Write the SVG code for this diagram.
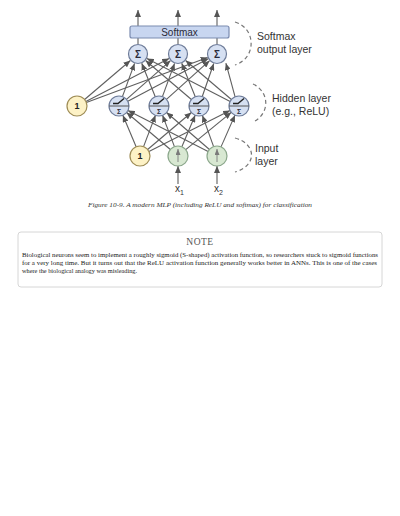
<svg xmlns="http://www.w3.org/2000/svg" width="400" height="516" viewBox="0 0 400 516">
<style>
.edge{stroke:#5f5f5f;stroke-width:1.1;fill:none;marker-end:url(#ah)}
.plain{stroke:#5f5f5f;stroke-width:1.1;fill:none}
.inner{stroke:#7a7a7a;stroke-width:0.9;fill:none;marker-end:url(#ah2)}
.blue{fill:#d6e0f2;stroke:#6e7c99;stroke-width:1.2}
.yel{fill:#fdf2c6;stroke:#9e8c55;stroke-width:1.2}
.grn{fill:#d8e8d2;stroke:#8ba78b;stroke-width:1.2}
.lbl{font-family:"Liberation Sans",Arial,sans-serif;font-size:10.5px;fill:#333}
.sig{font-family:"Liberation Sans",Arial,sans-serif;font-weight:bold;fill:#2a2a3a;text-anchor:middle}
.one{font-family:"Liberation Sans",Arial,sans-serif;font-weight:bold;font-size:9px;fill:#222;text-anchor:middle}
.dash{stroke:#777;stroke-width:1.2;fill:none;stroke-dasharray:4 3}
.serif{font-family:"Liberation Serif","Times New Roman",serif}
</style>
<defs>
<marker id="ah" markerUnits="userSpaceOnUse" markerWidth="7" markerHeight="6" refX="7" refY="3" orient="auto">
<path d="M0,0 L7,3 L0,6 z" fill="#555"/>
</marker>
<marker id="ah2" markerUnits="userSpaceOnUse" markerWidth="6" markerHeight="5" refX="6" refY="2.5" orient="auto">
<path d="M0,0 L6,2.5 L0,5 z" fill="#7a7a7a"/>
</marker>
</defs>
<rect width="400" height="516" fill="#fff"/>

<g id="connectors">
<line class="edge" x1="136.13" y1="146.78" x2="122.87" y2="115.22"/>
<line class="edge" x1="143.55" y1="146.65" x2="155.45" y2="115.35"/>
<line class="edge" x1="147.63" y1="149.53" x2="191.37" y2="112.47"/>
<line class="edge" x1="148.93" y1="151.49" x2="230.07" y2="110.51"/>
<line class="edge" x1="170.37" y1="149.53" x2="126.63" y2="112.47"/>
<line class="edge" x1="174.45" y1="146.65" x2="162.55" y2="115.35"/>
<line class="edge" x1="181.87" y1="146.78" x2="195.13" y2="115.22"/>
<line class="edge" x1="185.73" y1="149.66" x2="231.27" y2="112.34"/>
<line class="edge" x1="208.09" y1="151.46" x2="127.91" y2="110.54"/>
<line class="edge" x1="209.43" y1="149.47" x2="166.57" y2="112.53"/>
<line class="edge" x1="213.61" y1="146.59" x2="202.39" y2="115.41"/>
<line class="edge" x1="221.03" y1="146.85" x2="234.97" y2="115.15"/>
<line class="edge" x1="84.61" y1="99.51" x2="130.39" y2="60.49"/>
<line class="edge" x1="85.89" y1="101.42" x2="169.11" y2="58.58"/>
<line class="edge" x1="86.37" y1="102.52" x2="207.63" y2="57.48"/>
<line class="edge" x1="122.43" y1="96.61" x2="134.57" y2="63.39"/>
<line class="edge" x1="126.50" y1="99.39" x2="170.50" y2="60.61"/>
<line class="edge" x1="127.83" y1="101.31" x2="208.17" y2="58.69"/>
<line class="edge" x1="155.26" y1="96.73" x2="141.74" y2="63.27"/>
<line class="edge" x1="162.43" y1="96.61" x2="174.57" y2="63.39"/>
<line class="edge" x1="166.45" y1="99.32" x2="209.55" y2="60.68"/>
<line class="edge" x1="191.39" y1="99.51" x2="145.61" y2="60.49"/>
<line class="edge" x1="195.26" y1="96.73" x2="181.74" y2="63.27"/>
<line class="edge" x1="202.27" y1="96.55" x2="213.73" y2="63.45"/>
<line class="edge" x1="230.11" y1="101.42" x2="146.89" y2="58.58"/>
<line class="edge" x1="231.39" y1="99.51" x2="185.61" y2="60.49"/>
<line class="edge" x1="235.10" y1="96.79" x2="225.90" y2="63.21"/>
<line class="plain" x1="138" y1="44" x2="138" y2="38"/>
<line class="plain" x1="178" y1="44" x2="178" y2="38"/>
<line class="plain" x1="217" y1="44" x2="217" y2="38"/>
<line class="edge" x1="138" y1="26" x2="138" y2="10"/>
<line class="edge" x1="178" y1="26" x2="178" y2="10"/>
<line class="edge" x1="217" y1="26" x2="217" y2="10"/>
<line class="edge" x1="178" y1="184" x2="178" y2="166"/>
<line class="edge" x1="217" y1="184" x2="217" y2="166"/>
</g>

<g id="softmax">
<rect x="130" y="26" width="99" height="12" rx="2" fill="#c8d6f0" stroke="#7b8bb0" stroke-width="1.2"/>
<text x="179.5" y="35.5" text-anchor="middle" class="lbl" style="font-size:10px;fill:#2a2a3a">Softmax</text>
</g>

<g id="out1"><circle class="blue" cx="138" cy="54" r="9.5"/><text class="sig" x="138" y="57.5" font-size="10">Σ</text></g>
<g id="out2"><circle class="blue" cx="178" cy="54" r="9.5"/><text class="sig" x="178" y="57.5" font-size="10">Σ</text></g>
<g id="out3"><circle class="blue" cx="217" cy="54" r="9.5"/><text class="sig" x="217" y="57.5" font-size="10">Σ</text></g>

<g id="hbias"><circle class="yel" cx="77" cy="106" r="10"/><text class="one" x="77" y="109.3">1</text></g>

<g id="h1">
<circle class="blue" cx="119" cy="106" r="10"/>
<line x1="109" y1="106" x2="129" y2="106" stroke="#555" stroke-width="1"/>
<polyline points="113,103.5 118,103.5 124,98.5" fill="none" stroke="#222" stroke-width="1.4"/>
<text class="sig" x="119" y="114" font-size="7">Σ</text>
</g>
<g id="h2">
<circle class="blue" cx="159" cy="106" r="10"/>
<line x1="149" y1="106" x2="169" y2="106" stroke="#555" stroke-width="1"/>
<polyline points="153,103.5 158,103.5 164,98.5" fill="none" stroke="#222" stroke-width="1.4"/>
<text class="sig" x="159" y="114" font-size="7">Σ</text>
</g>
<g id="h3">
<circle class="blue" cx="199" cy="106" r="10"/>
<line x1="189" y1="106" x2="209" y2="106" stroke="#555" stroke-width="1"/>
<polyline points="193,103.5 198,103.5 204,98.5" fill="none" stroke="#222" stroke-width="1.4"/>
<text class="sig" x="199" y="114" font-size="7">Σ</text>
</g>
<g id="h4">
<circle class="blue" cx="239" cy="106" r="10"/>
<line x1="229" y1="106" x2="249" y2="106" stroke="#555" stroke-width="1"/>
<polyline points="233,103.5 238,103.5 244,98.5" fill="none" stroke="#222" stroke-width="1.4"/>
<text class="sig" x="239" y="114" font-size="7">Σ</text>
</g>

<g id="ibias"><circle class="yel" cx="140" cy="156" r="10"/><text class="one" x="140" y="159.3">1</text></g>
<g id="in1"><circle class="grn" cx="178" cy="156" r="10"/><line class="inner" x1="178" y1="162" x2="178" y2="149"/></g>
<g id="in2"><circle class="grn" cx="217" cy="156" r="10"/><line class="inner" x1="217" y1="162" x2="217" y2="149"/></g>

<g id="xlabels" class="lbl" style="font-size:10px">
<text x="175" y="192">x<tspan font-size="7" dy="3">1</tspan></text>
<text x="214" y="192">x<tspan font-size="7" dy="3">2</tspan></text>
</g>

<g id="layer-labels">
<path class="dash" d="M235,22 C256,28 257,58 235,65"/>
<text class="lbl" x="257" y="40">Softmax</text>
<text class="lbl" x="257" y="53">output layer</text>
<path class="dash" d="M253,84 C270,92 270,114 253,122"/>
<text class="lbl" x="272" y="102">Hidden layer</text>
<text class="lbl" x="272" y="115">(e.g., ReLU)</text>
<path class="dash" d="M235,138 C257,144 257,166 235,172"/>
<text class="lbl" x="255" y="152">Input</text>
<text class="lbl" x="255" y="165">layer</text>
</g>

<text class="serif" x="200" y="207" text-anchor="middle" font-size="7" font-style="italic" fill="#333" textLength="224" lengthAdjust="spacingAndGlyphs">Figure 10-9. A modern MLP (including ReLU and softmax) for classification</text>

<g id="note">
<rect x="18" y="232" width="364" height="55" rx="3" fill="#fff" stroke="#d6d6d6" stroke-width="1"/>
<text class="serif" x="200" y="245" text-anchor="middle" font-size="9.5" fill="#555" letter-spacing="0.5">NOTE</text>
<text class="serif" x="22" y="257" font-size="6.3" fill="#1a1a1a" textLength="356" lengthAdjust="spacingAndGlyphs">Biological neurons seem to implement a roughly sigmoid (S-shaped) activation function, so researchers stuck to sigmoid functions</text>
<text class="serif" x="22" y="265" font-size="6.3" fill="#1a1a1a" textLength="355" lengthAdjust="spacingAndGlyphs">for a very long time. But it turns out that the ReLU activation function generally works better in ANNs. This is one of the cases</text>
<text class="serif" x="22" y="273" font-size="6.3" fill="#1a1a1a">where the biological analogy was misleading.</text>
</g>
</svg>
